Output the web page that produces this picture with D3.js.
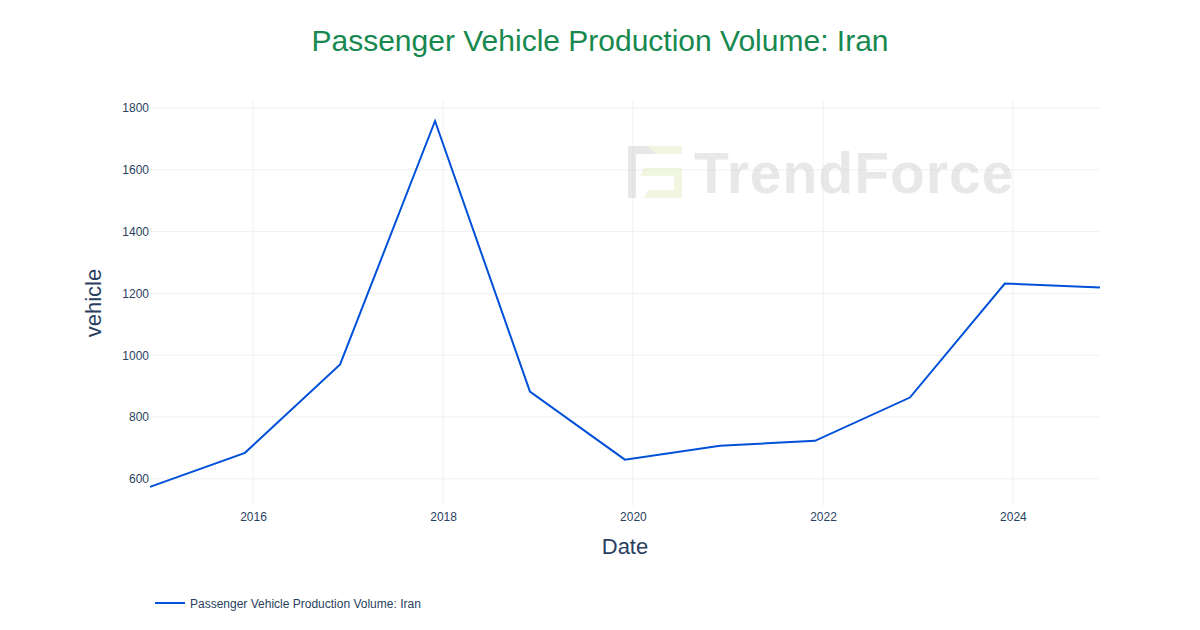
<!DOCTYPE html>
<html>
<head>
<meta charset="utf-8">
<script src="https://cdn.jsdelivr.net/npm/d3@7"></script>
<style>
  body { margin: 0; background: #fff; }
  svg { font-family: "Liberation Sans", Arial, sans-serif; }
</style>
</head>
<body>
<div id="chart"></div>
<script>
// data
var dates = ["2014-12-01", "2015-12-01", "2016-12-01", "2017-12-01", "2018-12-01",
             "2019-12-01", "2020-12-01", "2021-12-01", "2022-12-01", "2023-12-01", "2024-12-01"]
var values = [574, 684, 970, 1758, 882, 662, 707, 723, 863, 1232, 1219]
var yTicks = [600, 800, 1000, 1200, 1400, 1600, 1800]
var xTickYears = [2016, 2018, 2020, 2022, 2024]
var seriesName = "Passenger Vehicle Production Volume: Iran"

var W = 1200, H = 630
var margin = {top: 100, right: 100, bottom: 124, left: 150}
var width = W - margin.left - margin.right
var height = H - margin.top - margin.bottom

var parse = d3.timeParse("%Y-%m-%d")
var dataset = dates.map(function(d, i) { return {date: parse(d), y: values[i]} })

var svg = d3.select("#chart").append("svg")
    .attr("width", W)
    .attr("height", H)

// title
svg.append("text")
    .attr("x", W / 2)
    .attr("y", 51)
    .attr("text-anchor", "middle")
    .style("font-size", "30px")
    .style("fill", "#17894f")
    .text(seriesName)

var g = svg.append("g")
    .attr("transform", "translate(" + margin.left + "," + margin.top + ")")

var xScale = d3.scaleTime()
    .domain([dataset[0].date, dataset[dataset.length - 1].date])
    .range([0, width])

var yScale = d3.scaleLinear()
    .domain([512, 1826])
    .range([height, 0])

// grid
g.selectAll(".ygrid").data(yTicks).enter().append("line")
    .attr("x1", 0).attr("x2", width)
    .attr("y1", function(d) { return yScale(d) })
    .attr("y2", function(d) { return yScale(d) })
    .style("stroke", "#f0f1f3").style("stroke-width", 1)

var xTicks = xTickYears.map(function(y) { return new Date(y, 0, 1) })
g.selectAll(".xgrid").data(xTicks).enter().append("line")
    .attr("y1", 0).attr("y2", height)
    .attr("x1", function(d) { return xScale(d) })
    .attr("x2", function(d) { return xScale(d) })
    .style("stroke", "#f0f1f3").style("stroke-width", 1)

// watermark
var wm = g.append("g").attr("transform", "translate(476,46)").style("opacity", 0.55)
wm.append("path").attr("d", "M2,0 H34 L30,8 H10 V52 H2 Z").style("fill", "#d4d4d4")
wm.append("path").attr("d", "M22,0 H56 V8 H30 Z M18,22 H56 V52 H18 L22,44 H48 V30 H14 Z").style("fill", "#e6efc8")
wm.append("text")
    .attr("x", 68).attr("y", 47)
    .style("font-size", "57px").style("font-weight", "bold")
    .style("letter-spacing", "1px")
    .style("fill", "#d6d6d6")
    .text("TrendForce")

// axes
var xAxis = g.append("g")
    .attr("transform", "translate(0," + height + ")")
    .call(d3.axisBottom(xScale).tickValues(xTicks).tickFormat(d3.timeFormat("%Y")).tickSize(0).tickPadding(6))
xAxis.select(".domain").remove()
xAxis.selectAll("text").style("font-size", "12px").style("fill", "#2a3f5f")

var yAxis = g.append("g")
    .call(d3.axisLeft(yScale).tickValues(yTicks).tickFormat(d3.format("d")).tickSize(0).tickPadding(1))
yAxis.select(".domain").remove()
yAxis.selectAll("text").style("font-size", "12px").style("fill", "#2a3f5f")

// axis titles
svg.append("text")
    .attr("x", margin.left + width / 2)
    .attr("y", 554)
    .attr("text-anchor", "middle")
    .style("font-size", "22px")
    .style("fill", "#2a3f5f")
    .text("Date")

svg.append("text")
    .attr("transform", "translate(101,303) rotate(-90)")
    .attr("text-anchor", "middle")
    .style("font-size", "22px")
    .style("fill", "#2a3f5f")
    .text("vehicle")

// line
var line = d3.line()
    .x(function(d) { return xScale(d.date) })
    .y(function(d) { return yScale(d.y) })

g.append("path")
    .datum(dataset)
    .attr("d", line)
    .style("fill", "none")
    .style("stroke", "#0050d8")
    .style("stroke-width", 2)

// legend
svg.append("line")
    .attr("x1", 155).attr("x2", 185)
    .attr("y1", 603).attr("y2", 603)
    .style("stroke", "#0050d8").style("stroke-width", 2)
svg.append("text")
    .attr("x", 190).attr("y", 608)
    .style("font-size", "12px")
    .style("fill", "#2a3f5f")
    .text(seriesName)
</script>
</body>
</html>
